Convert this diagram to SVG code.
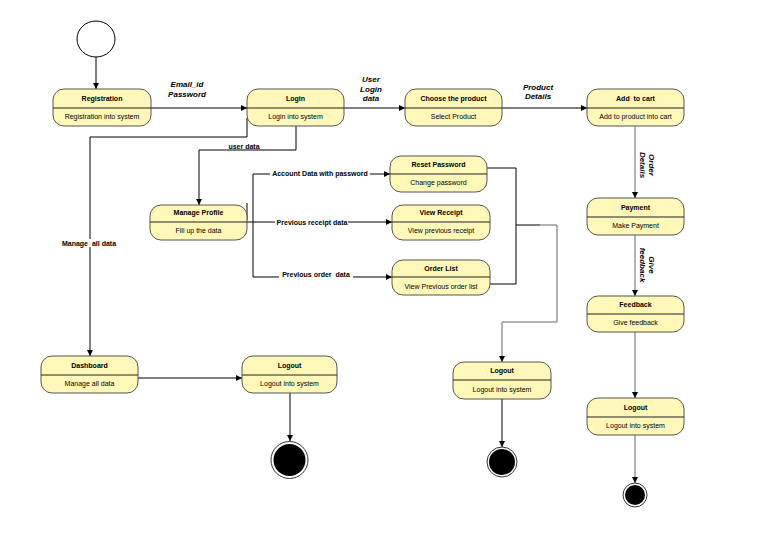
<svg xmlns="http://www.w3.org/2000/svg" width="768" height="547" viewBox="0 0 768 547">
<defs>
<marker id="arr" viewBox="0 0 10 10" refX="10" refY="5" markerWidth="6" markerHeight="6" markerUnits="userSpaceOnUse" orient="auto">
<path d="M0,0 L10,5 L0,10 z" fill="#000"/>
</marker>
<style>
.box{fill:#fff8b8;stroke:#555;stroke-width:1}
.div{stroke:#222;stroke-width:1}
.t{font-family:"Liberation Sans",Arial,sans-serif;font-size:7px;font-weight:bold;text-anchor:middle;fill:#000}
.s{font-family:"Liberation Sans",Arial,sans-serif;font-size:7px;text-anchor:middle;fill:#000}
.e{fill:none;stroke:#000;stroke-width:1}
.g{fill:none;stroke:#666;stroke-width:1}
.lbl{font-family:"Liberation Sans",Arial,sans-serif;font-size:7px;font-weight:bold;text-anchor:middle;fill:#000}
.it{font-family:"Liberation Sans",Arial,sans-serif;font-size:8px;font-weight:bold;font-style:italic;text-anchor:middle;fill:#000}
.bg{fill:#fff}
</style>
</defs>
<rect width="768" height="547" fill="#fff"/>

<g id="connectors">
<path class="e" d="M96,57 V89" marker-end="url(#arr)"/>
<path class="e" d="M151,108 H247" marker-end="url(#arr)"/>
<path class="e" d="M344,108 H405" marker-end="url(#arr)"/>
<path class="e" d="M502,108 H587" marker-end="url(#arr)"/>
<path class="g" d="M635,126 V198" marker-end="url(#arr)"/>
<path class="g" d="M635,235 V296" marker-end="url(#arr)"/>
<path class="g" d="M635,332 V398" marker-end="url(#arr)"/>
<path class="g" d="M635,435 V483" marker-end="url(#arr)"/>
<path class="e" d="M296,126 V150 H199 V205" marker-end="url(#arr)"/>
<path class="e" d="M247,118 V137 H90 V356" marker-end="url(#arr)"/>
<path class="e" d="M138,378 H242" marker-end="url(#arr)"/>
<path class="e" d="M290,393 V441" marker-end="url(#arr)"/>
<path class="e" d="M247,203 V220"/>
<path class="e" d="M253,174 V277"/>
<path class="e" d="M253,174 H390" marker-end="url(#arr)"/>
<path class="e" d="M247,222 H392" marker-end="url(#arr)"/>
<path class="e" d="M253,277 H392" marker-end="url(#arr)"/>
<path class="e" d="M487,168 H516 V284 H490"/>
<path class="e" d="M516,225 H540"/>
<path class="g" d="M540,225 H557 V322 H502 V362" marker-end="url(#arr)"/>
<path class="e" d="M502,399 V447" marker-end="url(#arr)"/>

<text class="it" x="187" y="87">Email_id</text>
<text class="it" x="187" y="97">Password</text>
<text class="it" x="371" y="82">User</text>
<text class="it" x="371" y="92">Login</text>
<text class="it" x="371" y="101">data</text>
<text class="it" x="538" y="90">Product</text>
<text class="it" x="538" y="99">Details</text>
<text class="it" transform="translate(649,165) rotate(90)" x="0" y="0">Order</text>
<text class="it" transform="translate(640,165) rotate(90)" x="0" y="0">Details</text>
<text class="it" transform="translate(649,265) rotate(90)" x="0" y="0">Give</text>
<text class="it" transform="translate(640,265) rotate(90)" x="0" y="0">feedback</text>

<rect class="bg" x="228" y="142" width="33" height="7"/>
<text class="lbl" x="244" y="148.5">user data</text>
<rect class="bg" x="60" y="239" width="58" height="8"/>
<text class="lbl" x="89" y="245.5" xml:space="preserve">Manage  all data</text>
<rect class="bg" x="270" y="169" width="100" height="8"/>
<text class="lbl" x="320" y="175.5">Account Data with password</text>
<rect class="bg" x="275" y="218" width="73" height="8"/>
<text class="lbl" x="312" y="224.5">Previous receipt data</text>
<rect class="bg" x="279" y="271" width="74" height="7"/>
<text class="lbl" x="316" y="277" xml:space="preserve">Previous order  data</text>
</g>

<g id="start">
<ellipse cx="96" cy="39" rx="19" ry="18" fill="#fff" stroke="#000" stroke-width="1"/>
</g>

<g id="registration">
<rect class="box" x="53" y="89" width="98" height="37" rx="11"/>
<line class="div" x1="53" y1="108" x2="151" y2="108"/>
<text class="t" x="102" y="100.5">Registration</text>
<text class="s" x="102" y="119">Registration into system</text>
</g>
<g id="login">
<rect class="box" x="247" y="89" width="97" height="37" rx="11"/>
<line class="div" x1="247" y1="108" x2="344" y2="108"/>
<text class="t" x="295.5" y="100.5">Login</text>
<text class="s" x="295.5" y="119">Login into system</text>
</g>
<g id="choose">
<rect class="box" x="405" y="89" width="97" height="37" rx="11"/>
<line class="div" x1="405" y1="108" x2="502" y2="108"/>
<text class="t" x="453.5" y="100.5">Choose the product</text>
<text class="s" x="453.5" y="119">Select Product</text>
</g>
<g id="addcart">
<rect class="box" x="587" y="89" width="97" height="37" rx="11"/>
<line class="div" x1="587" y1="108" x2="684" y2="108"/>
<text class="t" x="635.5" y="100.5" xml:space="preserve">Add  to cart</text>
<text class="s" x="635.5" y="119">Add to product into cart</text>
</g>
<g id="manageprofile">
<rect class="box" x="150" y="205" width="97" height="35" rx="11"/>
<line class="div" x1="150" y1="222" x2="247" y2="222"/>
<text class="t" x="198.5" y="215">Manage Profile</text>
<text class="s" x="198.5" y="233">Fill up the data</text>
</g>
<g id="resetpassword">
<rect class="box" x="390" y="156" width="97" height="36" rx="11"/>
<line class="div" x1="390" y1="174" x2="487" y2="174"/>
<text class="t" x="438.5" y="167">Reset Password</text>
<text class="s" x="438.5" y="185">Change password</text>
</g>
<g id="viewreceipt">
<rect class="box" x="392" y="205" width="98" height="35" rx="11"/>
<line class="div" x1="392" y1="222" x2="490" y2="222"/>
<text class="t" x="441" y="215">View Receipt</text>
<text class="s" x="441" y="233">View previous receipt</text>
</g>
<g id="orderlist">
<rect class="box" x="392" y="260" width="98" height="35" rx="11"/>
<line class="div" x1="392" y1="277" x2="490" y2="277"/>
<text class="t" x="441" y="271">Order List</text>
<text class="s" x="441" y="288.5">View Previous order list</text>
</g>
<g id="payment">
<rect class="box" x="587" y="198" width="97" height="37" rx="11"/>
<line class="div" x1="587" y1="217" x2="684" y2="217"/>
<text class="t" x="635.5" y="209.5">Payment</text>
<text class="s" x="635.5" y="228">Make Payment</text>
</g>
<g id="feedback">
<rect class="box" x="587" y="296" width="97" height="36" rx="11"/>
<line class="div" x1="587" y1="314" x2="684" y2="314"/>
<text class="t" x="635.5" y="307">Feedback</text>
<text class="s" x="635.5" y="325">Give feedback</text>
</g>
<g id="dashboard">
<rect class="box" x="41" y="356" width="97" height="37" rx="11"/>
<line class="div" x1="41" y1="375" x2="138" y2="375"/>
<text class="t" x="89.5" y="367.5">Dashboard</text>
<text class="s" x="89.5" y="386">Manage all data</text>
</g>
<g id="logout1">
<rect class="box" x="242" y="356" width="95" height="37" rx="11"/>
<line class="div" x1="242" y1="375" x2="337" y2="375"/>
<text class="t" x="289.5" y="367.5">Logout</text>
<text class="s" x="289.5" y="386">Logout into system</text>
</g>
<g id="logout2">
<rect class="box" x="453" y="362" width="98" height="37" rx="11"/>
<line class="div" x1="453" y1="380" x2="551" y2="380"/>
<text class="t" x="502" y="373">Logout</text>
<text class="s" x="502" y="391.5">Logout into system</text>
</g>
<g id="logout3">
<rect class="box" x="587" y="398" width="97" height="37" rx="11"/>
<line class="div" x1="587" y1="417" x2="684" y2="417"/>
<text class="t" x="635.5" y="409.5">Logout</text>
<text class="s" x="635.5" y="428">Logout into system</text>
</g>
<g id="end1">
<circle cx="289.5" cy="460" r="18.5" fill="#fff" stroke="#333" stroke-width="1"/>
<circle cx="289.5" cy="460" r="16" fill="#000"/>
</g>
<g id="end2">
<circle cx="502" cy="462" r="15" fill="#fff" stroke="#333" stroke-width="1"/>
<circle cx="502" cy="462" r="13" fill="#000"/>
</g>
<g id="end3">
<circle cx="635" cy="495" r="12" fill="#fff" stroke="#333" stroke-width="1"/>
<circle cx="635" cy="495" r="10" fill="#000"/>
</g>
</svg>
